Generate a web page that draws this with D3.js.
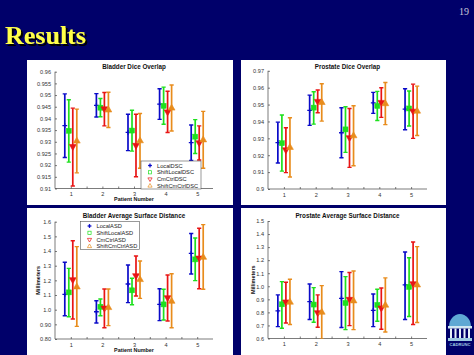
<!DOCTYPE html>
<html><head><meta charset="utf-8">
<script src="https://cdn.jsdelivr.net/npm/d3@7"></script>
<style>
html,body{margin:0;padding:0;background:#00006a;}
svg{display:block;}
</style></head>
<body>
<svg id="c" width="474" height="355"></svg>
<script>
const patients = [1, 2, 3, 4, 5];
const seriesColors = ["#0a0ac8", "#1ee01e", "#e81414", "#e88c1c"];
const seriesMarkers = ["plus", "square", "triDown", "triUp"];
const seriesOffsets = [-0.19, -0.063, 0.063, 0.19];
const dscLegend = ["LocalDSC", "ShiftLocalDSC", "CmCtrlDSC", "ShiftCmCtrlDSC"];
const asdLegend = ["LocalASD", "ShiftLocalASD", "CmCtrlASD", "ShiftCmCtrlASD"];

// Bladder Dice Overlap  [series][patient]
const bladderDscMean = [
  [0.9369, 0.9456, 0.9340, 0.9461, 0.9296],
  [0.9347, 0.9446, 0.9348, 0.9454, 0.9322],
  [0.9280, 0.9441, 0.9285, 0.9428, 0.9296],
  [0.9303, 0.9436, 0.9304, 0.9444, 0.9308]];
const bladderDscHigh = [
  [0.9505, 0.9506, 0.9418, 0.9527, 0.9372],
  [0.9480, 0.9485, 0.9435, 0.9534, 0.9395],
  [0.9444, 0.9511, 0.9418, 0.9516, 0.9368],
  [0.9440, 0.9512, 0.9421, 0.9543, 0.9430]];
const bladderDscLow = [
  [0.9233, 0.9406, 0.9262, 0.9396, 0.9220],
  [0.9213, 0.9407, 0.9260, 0.9375, 0.9250],
  [0.9111, 0.9368, 0.9150, 0.9340, 0.9222],
  [0.9167, 0.9361, 0.9187, 0.9346, 0.9187]];
const bladderDscTicks = [0.91, 0.915, 0.92, 0.925, 0.93, 0.935, 0.94, 0.945, 0.95, 0.955, 0.96];
const bladderDscTickLabels = ["0.91", "0.915", "0.92", "0.925", "0.93", "0.935", "0.94", "0.945", "0.95", "0.955", "0.96"];

// Prostate Dice Overlap
const prostateDscMean = [
  [0.9275, 0.9466, 0.9333, 0.9510, 0.9473],
  [0.9271, 0.9482, 0.9353, 0.9492, 0.9477],
  [0.9232, 0.9519, 0.9304, 0.9513, 0.9461],
  [0.9246, 0.9512, 0.9315, 0.9505, 0.9461]];
const prostateDscHigh = [
  [0.9396, 0.9556, 0.9481, 0.9572, 0.9594],
  [0.9438, 0.9576, 0.9487, 0.9578, 0.9580],
  [0.9363, 0.9586, 0.9477, 0.9600, 0.9621],
  [0.9422, 0.9623, 0.9493, 0.9631, 0.9609]];
const prostateDscLow = [
  [0.9154, 0.9377, 0.9185, 0.9448, 0.9351],
  [0.9106, 0.9384, 0.9217, 0.9406, 0.9373],
  [0.9097, 0.9452, 0.9128, 0.9424, 0.9300],
  [0.9071, 0.9402, 0.9138, 0.9381, 0.9317]];
const prostateDscTicks = [0.9, 0.91, 0.92, 0.93, 0.94, 0.95, 0.96, 0.97];
const prostateDscTickLabels = ["0.9", "0.91", "0.92", "0.93", "0.94", "0.95", "0.96", "0.97"];

// Bladder Average Surface Distance
const bladderAsdMean = [
  [1.105, 0.986, 1.175, 1.036, 1.384],
  [1.118, 1.020, 1.132, 1.036, 1.343],
  [1.205, 1.011, 1.232, 1.082, 1.352],
  [1.155, 1.014, 1.205, 1.057, 1.357]];
const bladderAsdHigh = [
  [1.323, 1.061, 1.305, 1.143, 1.520],
  [1.282, 1.073, 1.214, 1.139, 1.489],
  [1.470, 1.141, 1.366, 1.236, 1.555],
  [1.430, 1.141, 1.332, 1.245, 1.580]];
const bladderAsdLow = [
  [0.959, 0.909, 1.048, 0.925, 1.243],
  [0.952, 0.959, 1.034, 0.930, 1.198],
  [0.936, 0.877, 1.093, 0.923, 1.143],
  [0.886, 0.891, 1.077, 0.877, 1.139]];
const bladderAsdTicks = [0.8, 0.9, 1.0, 1.1, 1.2, 1.3, 1.4, 1.5, 1.6];
const bladderAsdTickLabels = ["0.80", "0.90", "1.0", "1.1", "1.2", "1.3", "1.4", "1.5", "1.6"];

// Prostate Average Surface Distance
const prostateAsdMean = [
  [0.811, 0.883, 0.908, 0.816, 1.010],
  [0.862, 0.860, 0.872, 0.857, 0.995],
  [0.880, 0.798, 0.900, 0.834, 1.020],
  [0.878, 0.801, 0.888, 0.855, 1.010]];
const prostateAsdHigh = [
  [0.934, 1.018, 1.112, 0.941, 1.263],
  [1.036, 0.990, 1.074, 0.977, 1.219],
  [1.031, 0.934, 1.105, 0.987, 1.339],
  [1.054, 1.005, 1.117, 1.064, 1.304]];
const prostateAsdLow = [
  [0.691, 0.745, 0.684, 0.691, 0.745],
  [0.679, 0.724, 0.668, 0.732, 0.768],
  [0.719, 0.686, 0.699, 0.671, 0.707],
  [0.707, 0.598, 0.668, 0.650, 0.722]];
const prostateAsdTicks = [0.6, 0.7, 0.8, 0.9, 1.0, 1.1, 1.2, 1.3, 1.4, 1.5];
const prostateAsdTickLabels = ["0.6", "0.7", "0.8", "0.9", "1.0", "1.1", "1.2", "1.3", "1.4", "1.5"];

const xTicks = [1, 1.5, 2, 2.5, 3, 3.5, 4, 4.5, 5];

const svg = d3.select("#c");
const FONT = "'Liberation Sans', Arial, sans-serif";

// drop shadow filter for slide title
const flt = svg.append("defs").append("filter").attr("id", "shadow")
  .attr("x", "-10%").attr("y", "-10%").attr("width", "130%").attr("height", "140%");
flt.append("feDropShadow").attr("dx", 2).attr("dy", 2).attr("stdDeviation", 0.4)
  .attr("flood-color", "#000").attr("flood-opacity", 1);

svg.append("text").attr("x", 5).attr("y", 43.5)
  .attr("font-family", "'Liberation Serif', 'Times New Roman', serif")
  .attr("font-weight", "bold").attr("font-size", 26).attr("fill", "#ffff4a")
  .attr("filter", "url(#shadow)")
  .text("Results");
svg.append("text").attr("x", 469).attr("y", 15).attr("text-anchor", "end")
  .attr("font-family", "'Liberation Serif', 'Times New Roman', serif")
  .attr("font-size", 10).attr("fill", "#c8c8d8").text("19");

function drawMarker(g, type, cx, cy, color, filled, s) {
  if (type === "plus") {
    g.append("line").attr("x1", cx - s * 0.6).attr("x2", cx + s * 0.6).attr("y1", cy).attr("y2", cy)
      .attr("stroke", color).attr("stroke-width", 1.3);
    g.append("line").attr("x1", cx).attr("x2", cx).attr("y1", cy - s * 0.6).attr("y2", cy + s * 0.6)
      .attr("stroke", color).attr("stroke-width", 1.3);
  } else if (type === "square") {
    g.append("rect").attr("x", cx - s / 2).attr("y", cy - s / 2).attr("width", s).attr("height", s)
      .attr("fill", filled ? color : "#fff").attr("stroke", color).attr("stroke-width", filled ? 0.5 : 0.7);
  } else {
    const sym = d3.symbol().type(d3.symbolTriangle).size(s * s * 0.75)();
    g.append("path").attr("d", sym)
      .attr("transform", `translate(${cx},${cy}) rotate(${type === "triDown" ? 180 : 0})`)
      .attr("fill", filled ? color : "#fff").attr("stroke", color).attr("stroke-width", filled ? 0.6 : 0.7);
  }
}

function drawPanel(cfg) {
  const g = svg.append("g");
  g.append("rect").attr("x", cfg.box[0]).attr("y", cfg.box[1])
    .attr("width", cfg.box[2] - cfg.box[0]).attr("height", cfg.box[3] - cfg.box[1])
    .attr("fill", "#ffffff");

  const x = d3.scaleLinear().domain([0.5, 5.5]).range([cfg.ax[0], cfg.ax[1]]);
  const y = d3.scaleLinear().domain(cfg.yDomain).range([cfg.ax[3], cfg.ax[2]]);

  const clip = "clip" + cfg.id;
  g.append("clipPath").attr("id", clip).append("rect")
    .attr("x", cfg.ax[0]).attr("y", cfg.ax[2] - 1)
    .attr("width", cfg.ax[1] - cfg.ax[0]).attr("height", cfg.ax[3] - cfg.ax[2] + 1);

  const ya = g.append("g").attr("transform", `translate(${cfg.ax[0]},0)`)
    .call(d3.axisLeft(y).tickValues(cfg.ticks).tickFormat((d, i) => cfg.tickLabels[i])
      .tickSizeInner(-2).tickSizeOuter(0).tickPadding(4));
  const xa = g.append("g").attr("transform", `translate(0,${cfg.ax[3]})`)
    .call(d3.axisBottom(x).tickValues(xTicks).tickFormat(d => Number.isInteger(d) ? d : "")
      .tickSizeInner(-2).tickSizeOuter(0).tickPadding(4));
  [ya, xa].forEach(a => {
    a.selectAll("path,line").attr("stroke", "#444").attr("stroke-width", 0.7);
    a.selectAll("text").attr("font-family", FONT).attr("font-size", 5.6).attr("fill", "#333");
  });
  xa.select(".domain").attr("d", `M${cfg.ax[0]},0H${cfg.ax[1]}`);
  ya.select(".domain").attr("d", `M0,${cfg.ax[3]}V${cfg.ax[2]}`);

  const dg = g.append("g").attr("clip-path", `url(#${clip})`);
  cfg.mean.forEach((ser, si) => {
    const col = seriesColors[si];
    ser.forEach((m, pi) => {
      const px = x(patients[pi] + seriesOffsets[si]);
      const yh = y(cfg.high[si][pi]), yl = y(cfg.low[si][pi]);
      dg.append("line").attr("x1", px).attr("x2", px).attr("y1", yh).attr("y2", yl)
        .attr("stroke", col).attr("stroke-width", 1.7);
      [yh, yl].forEach(yy => dg.append("line").attr("x1", px - 2.1).attr("x2", px + 2.1)
        .attr("y1", yy).attr("y2", yy).attr("stroke", col).attr("stroke-width", 1.4));
      drawMarker(dg, seriesMarkers[si], px, y(m), col, true, si === 1 ? 5 : (si === 0 ? 4 : 5.2));
    });
  });

  g.append("text").attr("x", (cfg.ax[0] + cfg.ax[1]) / 2).attr("y", cfg.titleY)
    .attr("text-anchor", "middle").attr("font-family", FONT).attr("font-weight", "bold")
    .attr("font-size", 6.3).attr("fill", "#111").text(cfg.title);
  if (cfg.xlabel) {
    g.append("text").attr("x", (cfg.ax[0] + cfg.ax[1]) / 2).attr("y", cfg.ax[3] + 12.5)
      .attr("text-anchor", "middle").attr("font-family", FONT).attr("font-weight", "bold")
      .attr("font-size", 5.4).attr("fill", "#111").text(cfg.xlabel);
  }
  if (cfg.ylabel) {
    const cy = (cfg.ax[2] + cfg.ax[3]) / 2;
    g.append("text").attr("transform", `translate(${cfg.ylabelX},${cy}) rotate(-90)`)
      .attr("text-anchor", "middle").attr("font-family", FONT).attr("font-weight", "bold")
      .attr("font-size", 5.5).attr("fill", "#111").text(cfg.ylabel);
  }
  if (cfg.legend) {
    const L = cfg.legend;
    const lg = g.append("g");
    lg.append("rect").attr("x", L.x).attr("y", L.y).attr("width", L.w).attr("height", L.h)
      .attr("fill", "#fff").attr("stroke", "#555").attr("stroke-width", 0.6);
    L.labels.forEach((lab, i) => {
      const yy = L.y + 4.5 + i * 6.8;
      drawMarker(lg, seriesMarkers[i], L.x + 9, yy, seriesColors[i], false, 3.2);
      lg.append("text").attr("x", L.x + 16).attr("y", yy + 2).attr("font-family", FONT)
        .attr("font-size", 5.7).attr("fill", "#222").text(lab);
    });
  }
}

drawPanel({ id: 1, box: [27, 60, 233, 205], ax: [55, 213, 71.7, 188.5], yDomain: [0.91, 0.96],
  ticks: bladderDscTicks, tickLabels: bladderDscTickLabels,
  mean: bladderDscMean, high: bladderDscHigh, low: bladderDscLow,
  title: "Bladder Dice Overlap", titleY: 69, xlabel: "Patient Number",
  legend: { x: 141, y: 161, w: 60, h: 28, labels: dscLegend } });

drawPanel({ id: 2, box: [241, 60, 446, 205], ax: [268, 427, 70.8, 189], yDomain: [0.9, 0.97],
  ticks: prostateDscTicks, tickLabels: prostateDscTickLabels,
  mean: prostateDscMean, high: prostateDscHigh, low: prostateDscLow,
  title: "Prostate Dice Overlap", titleY: 68.5 });

drawPanel({ id: 3, box: [27, 208, 233, 355], ax: [55, 213, 221.7, 339], yDomain: [0.8, 1.6],
  ticks: bladderAsdTicks, tickLabels: bladderAsdTickLabels,
  mean: bladderAsdMean, high: bladderAsdHigh, low: bladderAsdLow,
  title: "Bladder Average Surface Distance", titleY: 218, xlabel: "Patient Number",
  ylabel: "Millimeters", ylabelX: 39.5,
  legend: { x: 80.5, y: 221.5, w: 59, h: 28, labels: asdLegend } });

drawPanel({ id: 4, box: [241, 208, 446, 355], ax: [268, 427, 221, 338.5], yDomain: [0.6, 1.5],
  ticks: prostateAsdTicks, tickLabels: prostateAsdTickLabels,
  mean: prostateAsdMean, high: prostateAsdHigh, low: prostateAsdLow,
  title: "Prostate Average Surface Distance", titleY: 218,
  ylabel: "Millimeters", ylabelX: 255 });

// logo (bottom right emblem)
const logo = svg.append("g").attr("transform", "translate(460,330)");
logo.append("path").attr("d", "M-11,-3 A11,13 0 0 1 11,-3 Z").attr("fill", "#5fa8d4");
logo.append("rect").attr("x", -12).attr("y", -4).attr("width", 24).attr("height", 2.5).attr("fill", "#cfe6f2");
[-9, -4.5, 0, 4.5, 9].forEach(cx => logo.append("rect").attr("x", cx - 1).attr("y", -1.5)
  .attr("width", 2).attr("height", 10).attr("fill", "#e8f2f8"));
logo.append("rect").attr("x", -12).attr("y", 8).attr("width", 24).attr("height", 3).attr("fill", "#9cc8e0");
logo.append("text").attr("x", 0).attr("y", 16).attr("text-anchor", "middle")
  .attr("font-family", FONT).attr("font-weight", "bold").attr("font-size", 4.2).attr("fill", "#9cc8e0")
  .text("CADRUNC");
</script>
</body></html>
